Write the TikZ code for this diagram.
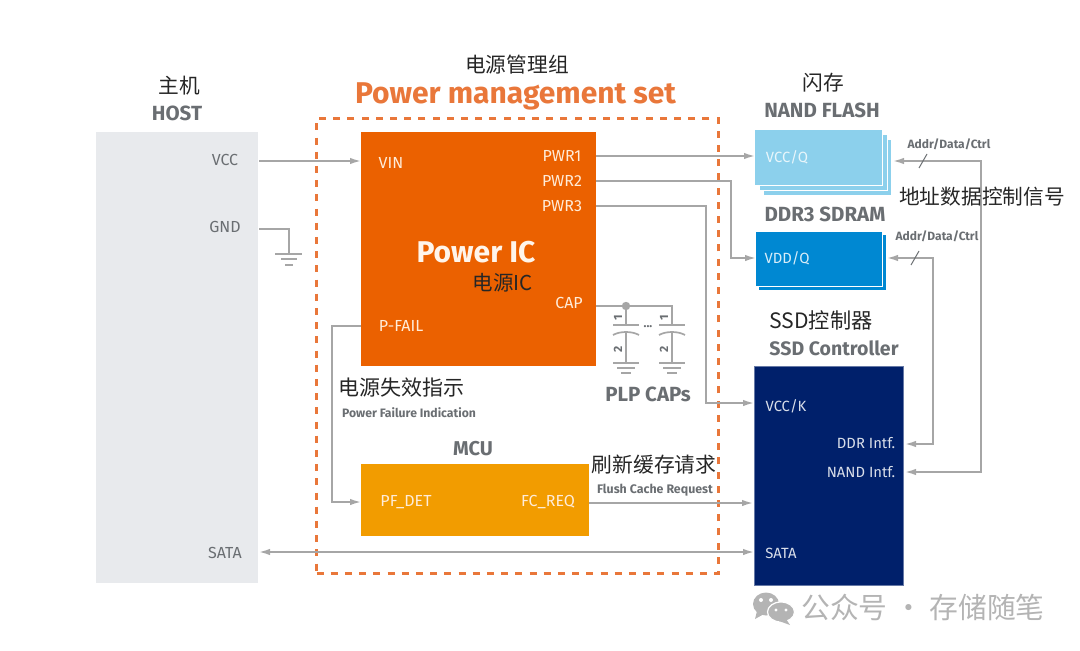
\documentclass[tikz,border=0pt]{standalone}
\usepackage{fontspec}
\setmainfont{Fira Sans}
\newfontfamily\cjk{Noto Sans CJK SC}
\usetikzlibrary{arrows.meta,calc}
\definecolor{lbl}{HTML}{6A6E72}
\definecolor{wirec}{HTML}{A6A6A6}
\definecolor{dashor}{HTML}{E9773A}
\definecolor{pwric}{HTML}{EB6100}
\definecolor{mcuc}{HTML}{F29C00}
\definecolor{nandc}{HTML}{8CD0EC}
\definecolor{ddrc}{HTML}{0088D2}
\definecolor{ssdc}{HTML}{00206B}
\definecolor{hostc}{HTML}{E8EAED}
\definecolor{wm}{HTML}{B4B4B4}
\newcommand{\fs}[1]{\fontsize{#1}{#1}\selectfont}
\tikzset{
  x=1pt,y=-1pt,
  box/.style={rectangle,draw=none,inner sep=0pt,outer sep=0pt,anchor=north west},
  wire/.style={draw=wirec,line width=1.7pt},
  thin wire/.style={draw=wirec,line width=1.3pt},
  tip/.style={-{Latex[length=11pt,width=6.5pt]}},
  both/.style={{Latex[length=11pt,width=6.5pt]}-{Latex[length=11pt,width=6.5pt]}},
  pin/.style={inner sep=0pt,font=\fs{16},text=lbl},
  inpin/.style={inner sep=0pt,font=\fs{16},text=#1},
  memlbl/.style={inner sep=0pt,font=\fs{14.8},text=#1},
  head/.style={inner sep=0pt,font=\bfseries\fs{20.5},text=lbl},
  small/.style={inner sep=0pt,font=\bfseries\fs{12.2},text=lbl},
  zh/.style={inner sep=0pt,font=\cjk\fs{20.7},text=black!85},
}
\begin{document}
\begin{tikzpicture}
\useasboundingbox (0,0) rectangle (1080,651);
% blocks
\node[box,fill=hostc,minimum width=162pt,minimum height=451pt] (host) at (96,132) {};
\node[box,draw=dashor,line width=3pt,dash pattern=on 7pt off 7.2pt,minimum width=402pt,minimum height=455pt] (pms) at (316.5,118.5) {};
\node[box,fill=pwric,minimum width=235pt,minimum height=234pt] (ic) at (361,132) {};
\node[box,fill=mcuc,minimum width=228pt,minimum height=72pt] (mcu) at (361,464) {};
\node[box,fill=nandc,draw=white,line width=.8pt,minimum width=128pt,minimum height=56pt] (nand3) at (763,139) {};
\node[box,fill=nandc,draw=white,line width=.8pt,minimum width=128pt,minimum height=56pt] (nand2) at (759,134) {};
\node[box,fill=nandc,draw=white,line width=.8pt,minimum width=128pt,minimum height=56pt] (nand) at (754.5,129.5) {};
\node[box,fill=ddrc,minimum width=127pt,minimum height=55pt] (ddr2) at (759,235) {};
\node[box,fill=ddrc,draw=white,line width=.8pt,minimum width=127pt,minimum height=55pt] (ddr) at (755.5,231.5) {};
\node[box,fill=ssdc,draw=ssdc!60!white,line width=.6pt,minimum width=149.5pt,minimum height=219pt] (ssd) at (754,366) {};
% pins
\coordinate (hvcc) at (259,161);
\coordinate (vin) at (361,161);
\coordinate (hgnd) at (259,229);
\coordinate (gc) at (289,229);
\coordinate (g0) at (289,254);
\coordinate (pwr1) at (596,156);
\coordinate (vccq) at (755,156);
\coordinate (pwr2) at (596,181);
\coordinate (vddq) at (756,258);
\coordinate (pwr3) at (596,206);
\coordinate (vcck) at (754,403);
\coordinate (capp) at (596,306);
\coordinate (dot) at (626,306);
\coordinate (c2) at (672,306);
\coordinate (pfail) at (361,326);
\coordinate (pfdet) at (361,502);
\coordinate (fcreq) at (589,503);
\coordinate (ssdfc) at (753,503);
\coordinate (hsata) at (259,552);
\coordinate (ssata) at (754,552);
\coordinate (nandq) at (893,161);
\coordinate (ddrq) at (887,258);
\coordinate (ddri) at (905,444);
\coordinate (nandi) at (905,472);
% connectors
\draw[wire,tip] (hvcc) -- (vin);
\draw[thin wire] (hgnd) -- (gc) -- (g0);
\draw[wire,tip] (pwr1) -- (vccq);
\draw[wire,tip] (pwr2) -| (731,220) |- (vddq);
\draw[wire,tip] (pwr3) -| (706,300) |- (vcck);
\draw[wire,tip] (pfail) -| (332,400) |- (pfdet);
\draw[wire,tip] (fcreq) -- (ssdfc);
\draw[wire,both] (hsata) -- (ssata);
\draw[wire,both] (nandq) -| (981,300) |- (nandi);
\draw[wire,both] (ddrq) -| (933,350) |- (ddri);
\coordinate (t1) at (923,161);
\coordinate (t2) at (915,258);
\draw[draw=lbl,line width=1pt] ($(t1)+(-4,7)$) -- ($(t1)+(4,-7)$);
\draw[draw=lbl,line width=1pt] ($(t2)+(-4,7)$) -- ($(t2)+(4,-7)$);
% GND symbol
\draw[thin wire] (275,254) -- (302,254) (281,259) -- (297,259) (285,265) -- (293,265);
% capacitors
\draw[wire] (capp) -- (c2) -- (672,325);
\draw[wire] (dot) -- (626,325);
\fill[wirec] (dot) circle (4.2pt);
\foreach \cx in {626,672}{
  \draw[wire] (\cx-13,325) -- (\cx+13,325);
  \draw[wire] (\cx-13,335) .. controls (\cx-6,331) and (\cx+6,331) .. (\cx+13,335);
  \draw[wire] (\cx,332) -- (\cx,363);
  \draw[wire] (\cx-13,363) -- (\cx+13,363);
  \draw[wire] (\cx-9,368) -- (\cx+9,368);
  \draw[wire] (\cx-5,373) -- (\cx+5,373);
  \node[inner sep=0pt,font=\bfseries\fs{12},text=lbl,rotate=90] (one\cx) at (\cx-8,318) {1};
  \node[inner sep=0pt,font=\bfseries\fs{12},text=lbl,rotate=90] (two\cx) at (\cx-8,349) {2};
}
\node[inner sep=0pt,font=\bfseries\fs{12},text=lbl] (dots) at (648,327) {...};
% labels
\node[zh] (lzj) at (179,86) {主机};
\node[head] (lhost) at (177,113) {HOST};
\node[zh] (lgrp) at (517,65) {电源管理组};
\node[inner sep=0pt,font=\bfseries\fs{30},text=dashor] (lpms) at (515.5,96) {Power management set};
\node[zh] (lsc) at (823,83) {闪存};
\node[head] (lnand) at (822,110) {NAND FLASH};
\node[head] (lddr) at (825,214) {DDR3 SDRAM};
\node[zh,font=\cjk\fs{21.2}] (lssdz) at (821,320) {SSD控制器};
\node[inner sep=0pt,font=\bfseries\fs{19.5},text=lbl] (lssd) at (834,348) {SSD Controller};
\node[zh] (laddrz) at (982,197) {地址数据控制信号};
\node[small,font=\bfseries\fs{12}] (la1) at (949,144) {Addr/Data/Ctrl};
\node[small,font=\bfseries\fs{12}] (la2) at (937,236) {Addr/Data/Ctrl};
\node[pin] at (225,160) {VCC};
\node[pin] at (225,227) {GND};
\node[pin] at (225,553) {SATA};
\node[inpin=white!85!orange] at (391,163) {VIN};
\node[inpin=white!85!orange] at (562,156) {PWR1};
\node[inpin=white!85!orange] at (562,181) {PWR2};
\node[inpin=white!85!orange] at (562,206) {PWR3};
\node[inpin=white!85!orange] at (569,303) {CAP};
\node[inpin=white!85!orange] at (401,326) {P-FAIL};
\node[inner sep=0pt,font=\bfseries\fs{30},text=white!92!orange] (lic) at (476,252) {Power IC};
\node[inner sep=0pt,font=\cjk\fs{20.5},text=black!85] (licz) at (503,283) {电源IC};
\node[zh,font=\cjk\fs{21}] (lpfz) at (401,388) {电源失效指示};
\node[small] (lpf) at (409,413) {Power Failure Indication};
\node[head,font=\bfseries\fs{20}] (lmcu) at (473,449) {MCU};
\node[inpin=white!85!orange] at (406,502) {PF\_DET};
\node[inpin=white!85!orange] at (548,502) {FC\_REQ};
\node[zh,font=\cjk\fs{20.8}] (lfcz) at (654,465) {刷新缓存请求};
\node[small,font=\bfseries\fs{12.4}] (lfc) at (655,490) {Flush Cache Request};
\node[head] (lplp) at (648,394) {PLP CAPs};
\node[memlbl=white!80!nandc] at (787,157) {VCC/Q};
\node[memlbl=white!85!ddrc] at (787,258) {VDD/Q};
\node[memlbl=white!85!ssdc] at (786,406) {VCC/K};
\node[memlbl=white!85!ssdc] at (866,443) {DDR Intf.};
\node[memlbl=white!85!ssdc] at (861,472) {NAND Intf.};
\node[memlbl=white!85!ssdc] at (781,553) {SATA};
% watermark
\fill[wm] (766,604) ellipse (13pt and 11.5pt);
\fill[wm] (757,611) -- (755,619) -- (764,614) -- cycle;
\draw[white,line width=1.2pt,fill=wm] (781,612) ellipse (13.5pt and 10pt);
\fill[wm] (786,619) -- (790,625) -- (779,621) -- cycle;
\fill[white] (761,600) circle (2pt) (771,600) circle (2pt) (776,610) circle (1.7pt) (786,610) circle (1.7pt);
\node[inner sep=0pt,font=\cjk\fs{28.8},text=wm] (wmt) at (923,607) {公众号 · 存储随笔};
\end{tikzpicture}
\end{document}
